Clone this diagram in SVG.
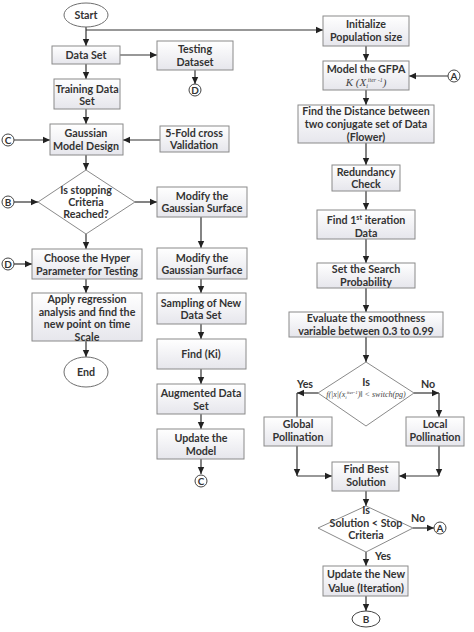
<svg xmlns="http://www.w3.org/2000/svg" width="474" height="632" viewBox="0 0 474 632">
<style>
.box{fill:url(#g);stroke:#8a8a8a;stroke-width:1}
.dia{fill:#ffffff;stroke:#8a8a8a;stroke-width:1}
.term{fill:#ffffff;stroke:#6e6e6e;stroke-width:1}
.con{fill:#ffffff;stroke:#444;stroke-width:1}
.t{font-family:Lato,"Liberation Sans",sans-serif;font-weight:bold;font-size:10.7px;fill:#333;text-anchor:middle}
.c{font-family:Lato,"Liberation Sans",sans-serif;font-weight:bold;font-size:10px;fill:#333;text-anchor:middle}
.f{font-family:"Liberation Serif",serif;font-style:italic;fill:#444;text-anchor:middle}
#connectors path{fill:none;stroke:#333;stroke-width:1.2}
</style>
<defs>
<linearGradient id="g" x1="0" y1="0" x2="0" y2="1">
<stop offset="0" stop-color="#ffffff"/>
<stop offset="1" stop-color="#e6e6ec"/>
</linearGradient>
<marker id="ar" markerUnits="userSpaceOnUse" markerWidth="8" markerHeight="8" refX="7" refY="4" orient="auto">
<path d="M0,0.8 L7,4 L0,7.2 Z" fill="#222"/>
</marker>
</defs>
<rect width="474" height="632" fill="#ffffff"/>

<g id="connectors">
<path d="M86,27 V46" marker-end="url(#ar)"/>
<path d="M86,30 H323" marker-end="url(#ar)"/>
<path d="M120,55 H157" marker-end="url(#ar)"/>
<path d="M195,70 V84" marker-end="url(#ar)"/>
<path d="M86,64 V79" marker-end="url(#ar)"/>
<path d="M86,109 V124" marker-end="url(#ar)"/>
<path d="M14,140 H50" marker-end="url(#ar)"/>
<path d="M160,140 H123" marker-end="url(#ar)"/>
<path d="M86,155 V170" marker-end="url(#ar)"/>
<path d="M14,202 H38" marker-end="url(#ar)"/>
<path d="M135,202 H157" marker-end="url(#ar)"/>
<path d="M86,234 V249" marker-end="url(#ar)"/>
<path d="M14,264 H32" marker-end="url(#ar)"/>
<path d="M86,279 V293" marker-end="url(#ar)"/>
<path d="M86,341 V357" marker-end="url(#ar)"/>
<path d="M201,217 V248" marker-end="url(#ar)"/>
<path d="M201,279 V293" marker-end="url(#ar)"/>
<path d="M201,324 V339" marker-end="url(#ar)"/>
<path d="M201,369 V384" marker-end="url(#ar)"/>
<path d="M201,414 V429" marker-end="url(#ar)"/>
<path d="M201,459 V474" marker-end="url(#ar)"/>
<path d="M366,46 V61" marker-end="url(#ar)"/>
<path d="M448,76 H409" marker-end="url(#ar)"/>
<path d="M366,90 V105" marker-end="url(#ar)"/>
<path d="M366,143 V165" marker-end="url(#ar)"/>
<path d="M366,191 V210" marker-end="url(#ar)"/>
<path d="M366,239 V263" marker-end="url(#ar)"/>
<path d="M366,288 V312" marker-end="url(#ar)"/>
<path d="M366,337 V362" marker-end="url(#ar)"/>
<path d="M318,393 H297" marker-end="url(#ar)"/>
<path d="M297,393 V417"/>
<path d="M414,393 H439" marker-end="url(#ar)"/>
<path d="M439,393 V417" marker-end="url(#ar)"/>
<path d="M297,446 V476" marker-end="url(#ar)"/>
<path d="M297,476 H332" marker-end="url(#ar)"/>
<path d="M439,446 V476" marker-end="url(#ar)"/>
<path d="M439,476 H399" marker-end="url(#ar)"/>
<path d="M366,491 V506" marker-end="url(#ar)"/>
<path d="M413,528 H434" marker-end="url(#ar)"/>
<path d="M366,552 V566" marker-end="url(#ar)"/>
<path d="M366,596 V611" marker-end="url(#ar)"/>
</g>

<g id="start"><ellipse class="term" cx="86" cy="15" rx="22" ry="12"/><text class="t" x="86" y="19">Start</text></g>
<g id="dataset"><rect class="box" x="52" y="46" width="68" height="18"/><text class="t" x="86" y="59">Data Set</text></g>
<g id="testing"><rect class="box" x="157" y="41" width="76" height="29"/><text class="t" x="195" y="53">Testing</text><text class="t" x="195" y="66">Dataset</text></g>
<g id="conD1"><circle class="con" cx="195" cy="90" r="6"/><text class="c" x="195" y="93.5">D</text></g>
<g id="training"><rect class="box" x="54" y="79" width="66" height="30"/><text class="t" x="87" y="93">Training Data</text><text class="t" x="87" y="105">Set</text></g>
<g id="conC1"><circle class="con" cx="8" cy="140" r="6"/><text class="c" x="8" y="143.5">C</text></g>
<g id="gaussian"><rect class="box" x="50" y="124" width="73" height="31"/><text class="t" x="86" y="137">Gaussian</text><text class="t" x="86" y="150">Model Design</text></g>
<g id="fivefold"><rect class="box" x="160" y="126" width="69" height="26"/><text class="t" x="194" y="137">5-Fold cross</text><text class="t" x="194" y="149">Validation</text></g>
<g id="conB1"><circle class="con" cx="8" cy="202" r="6"/><text class="c" x="8" y="205.5">B</text></g>
<g id="stopping"><polygon class="dia" points="86,170 135,202 86,234 38,202"/><text class="t" x="86" y="194">Is stopping</text><text class="t" x="86" y="206">Criteria</text><text class="t" x="86" y="218">Reached?</text></g>
<g id="conD2"><circle class="con" cx="8" cy="264" r="6"/><text class="c" x="8" y="267.5">D</text></g>
<g id="choose"><rect class="box" x="32" y="249" width="110" height="30"/><text class="t" x="87" y="262">Choose the Hyper</text><text class="t" x="87" y="275">Parameter for Testing</text></g>
<g id="apply"><rect class="box" x="32" y="293" width="110" height="48"/><text class="t" x="87" y="303">Apply regression</text><text class="t" x="87" y="315.5">analysis and find the</text><text class="t" x="87" y="328">new point on time</text><text class="t" x="87" y="340.5">Scale</text></g>
<g id="end"><ellipse class="term" cx="86" cy="372" rx="22" ry="15"/><text class="t" x="86" y="376">End</text></g>

<g id="modify1"><rect class="box" x="157" y="187" width="90" height="30"/><text class="t" x="202" y="200">Modify the</text><text class="t" x="202" y="212">Gaussian Surface</text></g>
<g id="modify2"><rect class="box" x="157" y="248" width="90" height="31"/><text class="t" x="202" y="262">Modify the</text><text class="t" x="202" y="274">Gaussian Surface</text></g>
<g id="sampling"><rect class="box" x="157" y="293" width="89" height="31"/><text class="t" x="201" y="307">Sampling of New</text><text class="t" x="201" y="319">Data Set</text></g>
<g id="findki"><rect class="box" x="157" y="339" width="89" height="30"/><text class="t" x="201" y="358">Find (Ki)</text></g>
<g id="augmented"><rect class="box" x="157" y="384" width="88" height="30"/><text class="t" x="201" y="397">Augmented Data</text><text class="t" x="201" y="410">Set</text></g>
<g id="updatemodel"><rect class="box" x="157" y="429" width="87" height="30"/><text class="t" x="201" y="442">Update the</text><text class="t" x="201" y="455">Model</text></g>
<g id="conC2"><circle class="con" cx="201" cy="481" r="6"/><text class="c" x="201" y="484.5">C</text></g>

<g id="init"><rect class="box" x="323" y="16" width="86" height="30"/><text class="t" x="366" y="28">Initialize</text><text class="t" x="366" y="41">Population size</text></g>
<g id="gfpa"><rect class="box" x="323" y="61" width="86" height="29"/><text class="t" x="366" y="73">Model the GFPA</text><text class="f" x="366" y="86" font-size="11">K (X<tspan font-size="6" dy="2">i</tspan><tspan font-size="6" dy="-6">iter -1</tspan><tspan dy="4">)</tspan></text></g>
<g id="conA1"><circle class="con" cx="454" cy="76" r="6"/><text class="c" x="454" y="79.5">A</text></g>
<g id="distance"><rect class="box" x="298" y="105" width="136" height="38"/><text class="t" x="366" y="115">Find the Distance between</text><text class="t" x="366" y="128">two conjugate set of Data</text><text class="t" x="366" y="141">(Flower)</text></g>
<g id="redundancy"><rect class="box" x="332" y="165" width="68" height="26"/><text class="t" x="366" y="176">Redundancy</text><text class="t" x="366" y="188">Check</text></g>
<g id="first"><rect class="box" x="317" y="210" width="98" height="29"/><text class="t" x="366" y="224">Find 1<tspan font-size="7" dy="-4">st</tspan><tspan dy="4"> iteration</tspan></text><text class="t" x="366" y="237">Data</text></g>
<g id="search"><rect class="box" x="317" y="263" width="98" height="25"/><text class="t" x="366" y="273">Set the Search</text><text class="t" x="366" y="286">Probability</text></g>
<g id="evaluate"><rect class="box" x="289" y="312" width="154" height="25"/><text class="t" x="366" y="322">Evaluate the smoothness</text><text class="t" x="366" y="335">variable between 0.3 to 0.99</text></g>
<g id="switch"><polygon class="dia" points="366,362 414,393 366,426 318,393"/><text class="t" x="366" y="386">Is</text><text class="f" x="366" y="397" font-size="8">f(|x|(x<tspan font-size="5" dy="1.5">i</tspan><tspan font-size="5" dy="-5">iter-1</tspan><tspan dy="3.5">)‖ &lt; switch(pg)</tspan></text></g>
<text class="t" x="305" y="388">Yes</text>
<text class="t" x="428" y="388">No</text>
<g id="global"><rect class="box" x="264" y="417" width="68" height="29"/><text class="t" x="298" y="428">Global</text><text class="t" x="298" y="441">Pollination</text></g>
<g id="local"><rect class="box" x="406" y="417" width="58" height="29"/><text class="t" x="435" y="428">Local</text><text class="t" x="435" y="441">Pollination</text></g>
<g id="best"><rect class="box" x="332" y="462" width="67" height="29"/><text class="t" x="366" y="473">Find Best</text><text class="t" x="366" y="486">Solution</text></g>
<g id="stopsol"><polygon class="dia" points="366,506 413,528 366,552 318,528"/><text class="t" x="366" y="514">Is</text><text class="t" x="366" y="527">Solution &lt; Stop</text><text class="t" x="366" y="539">Criteria</text></g>
<text class="t" x="418" y="522">No</text>
<text class="t" x="383" y="560">Yes</text>
<g id="conA2"><circle class="con" cx="440" cy="528" r="6"/><text class="c" x="440" y="531.5">A</text></g>
<g id="updatenew"><rect class="box" x="323" y="566" width="85" height="30"/><text class="t" x="366" y="578">Update the New</text><text class="t" x="366" y="592">Value (Iteration)</text></g>
<g id="conB2"><ellipse class="con" cx="366" cy="619" rx="14" ry="8"/><text class="c" x="366" y="622.5">B</text></g>
</svg>
